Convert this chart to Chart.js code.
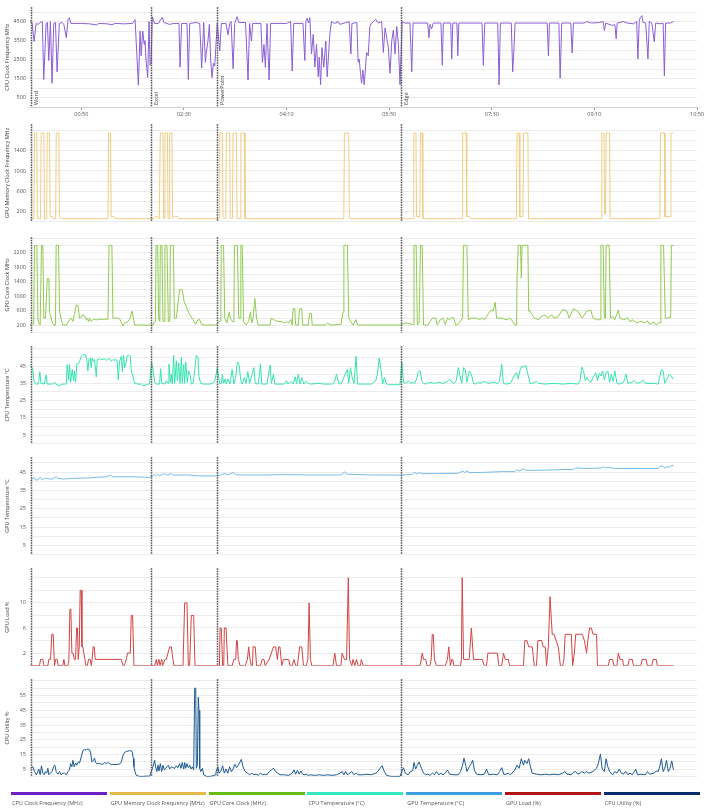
<!DOCTYPE html>
<html>
<head>
<meta charset="utf-8">
<script src="https://cdn.jsdelivr.net/npm/chart.js@4.4.1/dist/chart.umd.min.js"></script>
<style>
  html, body { margin: 0; padding: 0; background: #fff; }
  #wrap { position: relative; width: 708px; height: 808px; font-family: "Open Sans", sans-serif; }
  #wrap canvas { position: absolute; left: 0; }
  .leg { position: absolute; top: 792px; }
  .leg .bar { height: 3px; }
  .leg .txt { font-size: 5.5px; color: #555; margin-top: 4px; margin-left: 1px; white-space: nowrap; }
</style>
</head>
<body>
<div id="wrap"></div>
<script>
// time is in seconds since start, shown as mm:ss
const eventNames = ["Word", "Excel", "PowerPoint", "Edge"];
const eventTimes = [0.5, 118, 182, 361.5];
const xTicks = [50, 150, 250, 350, 450, 550, 650];

const seriesNames = ["CPU Clock Frequency (MHz)", "GPU Memory Clock Frequency (MHz)", "GPU Core Clock (MHz)",
  "CPU Temperature (°C)", "GPU Temperature (°C)", "GPU Load (%)", "CPU Utility (%)"];
const axisTitles = ["CPU Clock Frequency MHz", "GPU Memory Clock Frequency MHz", "GPU Core Clock MHz",
  "CPU Temperature °C", "GPU Temperature °C", "GPU Load %", "CPU Utility %"];

const cpuClock = [
  [0,4500],[2,4450],[4,3450],[6,4400],[8,4350],[10,4450],[12,4500],[13.4,1450],[15.7,4400],[17,4450],[18.3,2450],[19.9,4500],[21.5,1250],[23.1,4400],[24.8,4450],[26.4,1850],[28.6,4400],[31,4450],[33,4350],[35.4,3650],[37.1,4600],[38.3,4700],[40,4400],[50,4400],[58,4380],[65,4320],[67,4400],[75,4380],[80,4330],[83,4400],[92,4380],[100,4400],[102.4,4600],[105.6,1150],[107.3,4000],[108.3,2700],[109.9,4000],[111.2,3300],[112,3500],[113.1,2450],[114.7,1550],[116,4500],[117,2200],[118,2300],
  [119.2,4750],[121.5,4400],[125,4400],[128.9,4720],[130.5,4450],[136.1,4350],[140,4400],[145.2,4400],[146.2,2100],[147.8,4400],[153,4400],[154.3,1450],[155.6,4400],[162,4450],[165.4,4400],[167.3,2050],[169.3,4450],[170.9,2350],[171.9,2900],[173.5,3500],[174.8,4350],[176.1,2450],[177.4,1550],[178.7,2300],[180,2150],
  [182.5,4400],[184.9,2950],[186.5,4400],[191,4400],[193,3800],[194.6,4400],[196,4500],[197.9,2020],[199.5,4400],[201.8,4760],[203.5,4450],[210,4450],[212.5,1420],[214,4400],[215.8,3470],[217,4400],[225,4400],[226.5,2350],[228,3290],[229.4,2080],[231,4400],[233,1420],[234.5,4400],[250,4400],[254,4500],[255.5,1900],[257,4400],[266,4400],
  [267.8,2450],[268.8,4500],[270.1,4670],[271.4,4420],[272.7,4700],[274.3,2790],[276,3820],[277.6,2100],[279.2,3300],[280.9,1590],[281.9,2620],[283.2,1170],[284.5,3130],[286.3,2100],[288.3,3470],[289.6,1590],[292.2,3820],[293.8,4500],[297,4400],[300.3,4500],[302,4350],[311,4500],[312.7,2790],[313.7,4400],[318.5,4450],
  [319.8,2360],[320.8,2530],[322.1,1770],[323.1,1250],[324.4,1940],[325.7,1170],[327,2100],[328,2870],[329.6,2700],[331.2,4240],[332.9,4420],[335.1,4500],[336.8,4620],[339.4,4420],[342.7,4500],[344.3,2870],[346,4160],[349.2,3130],[350.9,1770],[352.5,3470],[354.1,4050],[355.7,2790],[357.4,4240],[359,3300],[360.6,1170],
  [362.7,4500],[365.4,4420],[370.3,4420],[372,1850],[373.3,4420],[387.5,4420],[388.8,3650],[389.8,4350],[391.4,4120],[393,4420],[400.5,4420],[401.8,2190],[402.8,4420],[410,4420],[411,2530],[412,4420],[416,4420],[416.9,2700],[417.9,4420],[430,4420],
  [440.5,4420],[441.8,2190],[443.1,4420],[455.8,4420],[457.1,1170],[458.4,4420],[469,4420],[470.4,1850],[471.4,2790],[472.7,4420],[504,4420],[505.2,2700],[506.2,4420],[515.4,4420],[516.6,1510],[518.2,4420],[527,4420],[528.3,2840],[529.6,4420],[540,4420],[542.6,4500],[547,4420],[555,4450],[558.5,4500],[559.8,4020],[561.1,4420],[567,4300],[570,4330],[571.2,3590],[572.2,4420],[578,4500],[582,4420],[588,4380],[591.2,4500],[592.4,2530],[593.7,4500],[594.6,4700],[596.3,4810],[597.3,4450],[600,4420],[602.2,2530],[603.5,4500],[606,4420],[608.4,3440],[609.7,4420],[614,4380],[617,4420],[618.2,1640],[619.4,4420],[624,4420],[627.2,4500]
];

const gpuMemClock = [
  [0,60],[3.8,60],[4.4,1750],[6.6,1750],[7.2,60],[10.3,60],[10.9,1750],[13.5,1750],[14.1,60],[16.2,60],[16.8,1750],[19,1750],[19.6,100],[22,100],[23,60],[25,60],[25.6,1750],[28.1,1750],[28.7,80],[31,60],[76,60],[76.6,1750],[78.5,1750],[79.1,100],[82,100],[83,60],[118,60],
  [121,60],[122.5,100],[124.5,100],[126,60],[126.4,60],[127,1750],[129.6,1750],[130.2,60],[131,60],[131.5,1750],[133.9,1750],[134.5,60],[135.5,60],[136.1,1750],[138.3,1750],[138.9,80],[141,100],[144,100],[145,60],[181,60],
  [184.3,60],[184.9,1750],[187.5,1750],[188.1,80],[190.8,60],[191.4,1750],[194.6,1750],[195.2,70],[197.3,60],[197.9,1750],[201.2,1750],[201.8,60],[204.9,60],[205.5,1750],[208.9,1750],[209.5,60],[305.8,60],[306.4,1750],[310.6,1750],[311.2,60],[361,60],
  [373.4,60],[374,1750],[376.1,1750],[376.7,100],[379.9,100],[380.5,1750],[382.2,1750],[382.8,60],[421,60],[421.6,1750],[425,1750],[425.6,100],[428,100],[429,60],[474,60],[474.6,1750],[476.7,1750],[477.3,100],[480.4,100],[481,1750],[485.2,1750],[485.8,60],[556.6,60],[557.2,1750],[559.3,1750],[559.9,150],[560.8,150],[561.4,1750],[564.8,1750],[565.4,60],[613.8,60],[614.4,1750],[618.2,1750],[618.8,100],[624,100],[624.6,1750],[627,1750]
];

const gpuCoreClock = [
  [0,210],[1.1,210],[2.8,245],[3.6,245],[4.4,2400],[6.7,2400],[7.7,400],[8.6,270],[9.9,210],[10.6,210],[11.2,2400],[12.5,2400],[13.5,400],[15.1,400],[16.8,1490],[18.4,1490],[19,550],[20,490],[21.3,310],[23.2,210],[24.8,210],[25.5,2400],[27.8,2400],[28.8,590],[30.1,400],[32,210],[35.3,210],[38.5,350],[40.2,400],[41.8,310],[43.4,530],[45,750],[46.7,750],[48.3,400],[49.9,420],[51.5,490],[53.2,460],[54.8,360],[55.8,400],[57.1,300],[58,400],[59.7,310],[61.3,360],[62.9,370],[64.6,350],[67.8,370],[72,370],[76,370],[77,2400],[79.8,2400],[80.8,400],[85.7,400],[87.3,380],[90.6,180],[92.2,270],[95.5,310],[97.7,400],[99.4,590],[100.3,490],[101.9,210],[118,210],
  [119.8,210],[121.5,310],[122.3,310],[122.8,2400],[124.4,2400],[125.4,400],[126.5,310],[127,2400],[128.6,2400],[129.6,310],[131,310],[131.5,2400],[133.5,2400],[134.8,310],[136.3,310],[136.8,2400],[139.7,2400],[140.7,400],[142.6,400],[145.8,1180],[148.4,1180],[150,880],[152.4,700],[155.6,490],[158.9,360],[161.5,230],[163.7,350],[165.4,360],[167,230],[170.3,210],[181,210],
  [182.2,226],[184.3,310],[185.9,310],[186.4,2400],[188.6,2400],[189.8,400],[191.9,270],[194.1,560],[195.3,400],[197.5,300],[198.7,300],[199.2,2400],[202.1,2400],[203.4,400],[204.9,400],[205.5,2400],[206.8,2400],[208.1,300],[210.6,210],[213.1,310],[214.8,560],[216.1,270],[217.4,400],[219.1,940],[220.8,400],[222.5,210],[233.9,210],[235.2,400],[237.3,360],[241.5,310],[245.8,300],[247.9,270],[250,310],[252.1,260],[254.2,360],[255.5,210],[256.4,660],[258,660],[258.9,210],[261.4,210],[262.7,660],[264.8,660],[265.7,210],[271.2,210],[272.5,530],[274.2,530],[275,210],[288.1,210],[290.3,270],[292.4,210],[303,226],[305.1,570],[305.9,2400],[309.3,2400],[310.6,400],[314.8,210],[317.8,360],[319.1,210],[361,210],
  [362.3,226],[366.5,270],[372.9,226],[373.6,226],[374.2,2400],[376.3,2400],[377.5,210],[379.2,270],[379.9,270],[380.5,2400],[382.2,2400],[383.5,210],[387.7,210],[392,400],[395.3,400],[397,210],[399.6,350],[402.5,400],[404.7,226],[406.8,400],[408.9,357],[411,418],[413.1,400],[414.8,210],[417.4,240],[421.6,400],[422.4,2400],[425.8,2400],[427.1,357],[430.1,400],[434.3,400],[438.6,365],[440.7,400],[442.8,357],[447,530],[449.2,620],[451.3,590],[453.4,835],[454.7,400],[459.7,400],[464,357],[468.2,400],[470.3,310],[472.5,210],[474.2,210],[474.6,1440],[475.8,2400],[478,2400],[478.8,1500],[479.6,2400],[485.2,2400],[486,590],[487.3,590],[491.5,400],[495.8,357],[497.9,444],[502.1,487],[504.2,400],[508.5,487],[510.6,400],[514.8,444],[519.1,640],[523.3,590],[525.4,400],[529.7,660],[533.9,590],[538.1,400],[542.4,590],[546.6,618],[548.7,400],[553,357],[555.8,357],[556.4,2400],[558.5,2400],[559.7,400],[560.8,400],[561.4,2400],[564.4,2400],[565.7,400],[567.8,444],[569.9,357],[573.3,620],[575,400],[578.4,357],[582.6,400],[584.7,296],[586.9,357],[591.1,270],[595.3,313],[599.6,270],[601.7,330],[603.8,226],[608.1,296],[610.2,210],[613.1,270],[614.3,270],[614.8,2400],[617.4,2400],[619.1,400],[621,400],[622.9,418],[624.4,418],[625,2400],[627.1,2400]
];

const cpuTemp = [
  [0.5,45.6],[2.8,43.1],[3.8,36.5],[5.4,34.6],[7.7,34.6],[8.6,36.5],[9.6,41.8],[10.6,35],[14.1,34.6],[15.8,39.9],[16.8,34.6],[22.3,34.6],[23.9,35.6],[26.2,34.1],[28.8,33.7],[32,34.6],[35.3,34.6],[36.3,45.9],[37.6,36.9],[38.5,45.9],[39.5,35.6],[41.1,43.1],[42.4,36.5],[43.4,42.2],[44.4,35.6],[45.7,46.3],[47,46.3],[48.3,47.8],[49.9,50.7],[51.5,51.6],[54.1,51.6],[55.4,48.8],[56.4,42.2],[57.4,48.8],[58.7,49.7],[59.7,44.1],[60.6,49.7],[61.9,47.8],[62.9,48.8],[64.6,38.8],[65.5,48.8],[67.8,49.2],[71,48.8],[72.7,49.3],[74.3,48.2],[75.9,49.2],[77.6,49.3],[79.2,47.8],[80.8,48.8],[82.4,48.4],[84.1,48.8],[85,47.8],[86,37.1],[87.3,47.8],[89,50.7],[89.9,41.8],[91.2,51.2],[92.2,44.1],[93.8,47.8],[94.8,51.2],[96.1,51.2],[97.7,50.7],[98.7,42.2],[100.3,39.3],[101.9,35],[105.2,34.6],[108.5,34.6],[110.1,33.7],[113.3,34.1],[115,34.6],[116.6,34.6],
  [118.5,47.5],[119.8,43.1],[121.5,35.6],[123.1,34.6],[126.3,34.6],[127.3,43.5],[128.6,35],[131.2,34.6],[132.8,36.5],[134.5,35],[135.4,46.3],[136.8,35.6],[137.7,40.3],[138.7,34.6],[140,51.2],[141,35],[142.6,48.2],[143.6,36.5],[144.9,46.9],[146.2,35],[147.5,50.1],[148.4,35],[149.8,45.9],[150.7,35],[151.7,47.5],[153.3,35.6],[154.6,42.2],[156.3,39.3],[157.2,34.6],[158.9,35],[160.5,42.5],[162.1,51.2],[163.7,50.1],[164.7,38.8],[166.4,35],[168.7,34.6],[171.9,34.6],[175.2,34.6],[177.8,35],[180,36.1],
  [182.6,44.1],[183.9,38.4],[184.9,34.6],[186.5,35],[187.5,40.3],[188.8,35],[190.1,37.5],[191.4,34.6],[192.8,37.5],[194.9,34.6],[197,43.1],[198.7,34.6],[200.4,38.4],[202.1,47.5],[203.8,45.6],[205.5,36.5],[206.8,34.6],[208.9,38.4],[210.6,35],[212.3,41.8],[214,35],[216.5,40.3],[218.2,44.1],[219.5,35],[222.5,34.6],[224.6,46.3],[225.8,34.6],[230.9,34.6],[233.9,45.6],[235.2,35],[237.3,40.3],[238.6,34.6],[247.9,34.6],[250,36.5],[251.3,34.6],[254.2,36.1],[256.4,34.6],[258.5,38.8],[259.7,34.6],[261.4,40.3],[263.1,34.6],[264.8,38.4],[266.9,34.6],[269.1,36.1],[271.2,35],[273.3,34.6],[281.8,35],[286,34.6],[294.5,34.6],[296.6,35.6],[298.7,40.3],[300.8,35],[303,34.6],[307.2,40.3],[309.3,43.1],[310.6,35],[312.3,44.1],[314,38.4],[315.7,35],[317.8,50.7],[319.1,34.6],[332.6,34.6],[336.9,36.5],[338.6,40.3],[340.3,49.7],[342,43.1],[343.6,34.6],[345.3,38.4],[347.5,34.6],[349.6,34.2],[360.6,34.2],
  [362.3,47.5],[364,35.6],[366.5,35],[368.6,36.5],[370.8,35],[372.9,35.6],[375,35],[377.1,38.4],[378.4,41.8],[380.1,42.5],[381.8,36.5],[383.5,35],[385.6,34.6],[389.8,35.6],[394.1,35],[398.3,35.6],[402.5,35],[406.8,36.1],[408.9,37.5],[411,35.6],[413.1,35],[415.3,36.5],[417.4,44.1],[419.1,39.3],[420.8,35],[422.5,44.1],[424.2,43.1],[425.8,35.6],[428,42.2],[430.1,40.3],[432.2,35],[434.3,34.6],[436.4,35.6],[438.6,35],[442.8,36.1],[447,35],[451.3,35.6],[455.5,35],[457.6,36.5],[459.7,46.3],[461.4,35],[464,34.6],[468.2,35],[472.5,40.3],[474.2,41.2],[475.8,37.5],[477.5,42.5],[479.2,45],[480.9,44.1],[483,45.6],[485.2,40.3],[487.3,35],[489.4,35],[493.6,36.1],[495.8,35],[502.1,34.6],[510.6,35],[519.1,34.6],[527.5,35],[533.9,34.6],[536,36.5],[537.7,44.4],[539.4,42.5],[541.1,36.5],[542.8,38.4],[544.5,36.5],[546.6,35.6],[548.7,38.4],[551.3,41.2],[553,36.5],[554.7,40.7],[556.4,39.3],[558,42.2],[559.7,36.9],[561.4,41.2],[563.1,42.2],[564.8,35.6],[566.5,40.3],[568.2,36.1],[569.9,42.2],[572,35],[574.2,34.6],[578.4,35.6],[580.9,40.3],[582.6,35],[586.9,35.6],[589,36.5],[591.1,35],[595.3,35.6],[597.5,36.9],[599.6,35],[608.1,35],[612.3,34.6],[613.6,38.4],[615.3,43.1],[617,42.2],[618.6,35],[620.8,37.5],[622.9,40.3],[625,39.3],[626.7,37.5]
];

const gpuTemp = [
  [0.5,40.3],[2.1,41.2],[3.8,42.1],[5.4,40.7],[7.7,40.7],[9.9,42.1],[11.9,40.7],[14.1,41.7],[15.8,41.6],[19,41.2],[22.3,41.2],[25.5,42.4],[27.2,41.6],[32,41.2],[45,41.6],[54.8,41.7],[64.6,42.1],[74.3,42.4],[78.6,43.3],[80.8,42.4],[84.1,42.4],[100.3,42.4],[116.6,42.1],
  [119.8,42.9],[121.5,43.8],[123.1,42.9],[124.7,43.8],[126.3,42.9],[129.6,43.8],[131.2,44.1],[132.8,43.3],[137.7,44.1],[139.3,43.3],[152.4,43.4],[165.4,42.9],[181.7,42.9],
  [184.9,43.3],[189.8,44.1],[193,43.4],[197.9,44.7],[201.2,43.4],[214,43.4],[230.9,43.4],[247.9,43.6],[269.1,43.4],[290.3,43.4],[303,43.4],[306.4,45],[309.3,43.8],[332.6,43.4],[360.6,43.3],
  [362.3,43.3],[372.9,43.8],[375,45],[377.1,43.8],[379.2,44.7],[381.4,44.1],[396.2,44.1],[417.4,44.3],[421.6,45.5],[423.7,44.7],[425.8,45.5],[428,44.7],[442.8,44.8],[459.7,45.2],[472.5,45.2],[474.6,46.4],[476.7,45.5],[480.9,46.7],[483,45.9],[502.1,46],[523.3,46.4],[529.7,46.4],[531.8,47.2],[544.5,46.9],[557.2,47.2],[559.3,47.9],[561.4,47.2],[563.6,47.6],[569.9,46.9],[586.9,46.9],[612.3,46.9],[614.4,48.3],[616.5,48.4],[618.6,47.2],[620.8,47.9],[622.9,47.6],[625,48.4],[627.1,48.6]
];

const gpuLoad = [
  [0,0],[9.3,0],[10.3,1],[12.5,1],[13.5,0],[17.4,0],[18.4,1],[20,1],[21.3,5],[22.6,5],[23.9,0],[24.9,1],[26.5,1],[27.5,0],[32,0],[33,1],[34,0],[36.9,0],[37.9,1],[38.9,9],[39.8,9],[40.8,2],[42.1,2],[43.1,1],[44.4,1],[45.4,6],[46.3,6],[47,1],[48,3],[48.9,12],[49.9,12],[50.6,3],[51.5,3],[52.5,2],[53.5,1],[54.5,0],[55.8,0],[57.1,1],[58.7,1],[59.7,0],[60.6,1],[61.6,3],[62.6,3],[63.6,1],[89,1],[90.6,0],[91.9,0],[93.8,1],[95.1,2],[97.7,2],[98.7,8],[100,8],[101.3,0],
  [121.5,0],[123.1,1],[124.1,0],[125.7,1],[126.7,0],[128.3,1],[129.3,0],[131.5,1],[132.8,1],[136.1,3],[137.7,3],[139.3,1],[140.3,0],[149.1,0],[150.7,10],[153,10],[154.3,0],[155.6,0],[157.2,8],[159.5,8],[160.8,0],[181,0],
  [182.2,0],[184.6,0],[185.2,6],[186.4,6],[187.7,0],[188.8,0],[189.4,6],[191.1,6],[192.8,0],[197,0],[198.7,1],[200.5,1],[201.3,4],[202,4],[203,1],[204.7,0],[209.7,0],[211.9,1],[213.1,3],[214.4,1],[215.7,0],[216.8,0],[217.4,3],[219.5,3],[220.8,0],[224.6,0],[226.3,1],[228,1],[229.2,0],[233.1,1],[235.2,2],[237.3,3],[239.4,3],[241.1,1],[242.4,3],[243.6,3],[245.3,0],[247,1],[252.1,1],[253.4,0],[255.5,0],[257.2,1],[258.9,0],[260.5,0],[261.4,1],[262.7,3],[264.8,3],[266.5,0],[269.1,0],[270.8,1],[272,10],[273.3,1],[274.6,0],[295.3,0],[297,2],[298.7,0],[303,0],[304.2,2],[306.4,1],[308.5,1],[310.2,14],[311.4,1],[313.6,0],[314.8,1],[316.5,0],[318.2,1],[319.9,0],[322,0],[322.9,1],[324.6,0],[361,0],
  [380.1,0],[381.3,1],[382.2,2],[383.5,1],[385.6,1],[386.9,0],[389.8,0],[391,1],[392,5],[393,5],[394.1,1],[396.2,0],[404.7,0],[406.8,1],[408.1,3],[409.7,0],[411,1],[411.9,1],[413.1,0],[419.5,0],[420.4,1],[421.2,14],[422.5,1],[428,1],[430.1,6],[432.2,1],[440.7,1],[442.8,0],[444.9,0],[446.2,2],[455.5,2],[456.8,0],[459.7,0],[461.4,2],[463.1,1],[466.1,1],[467.4,0],[480.9,0],[482.2,4],[484.3,4],[486,3],[489.4,3],[491.5,0],[493.6,0],[494.9,4],[498.7,4],[500,3],[502.1,3],[503.4,0],[505.1,3],[506.8,11],[507.6,11],[508.9,5],[510.6,5],[512.7,4],[514.8,3],[516.9,0],[519.1,0],[520.3,1],[521.6,5],[527.5,5],[528.8,0],[530.5,2],[531.8,5],[538.1,5],[540.3,4],[542.4,2],[543.6,4],[545.3,6],[547,6],[548.7,5],[552.1,5],[553,0],[563.6,0],[564.8,1],[567.8,1],[569.1,0],[572,0],[573.3,2],[575,1],[577.5,1],[578.4,0],[582.6,0],[583.9,1],[586.9,1],[588.1,0],[595.3,0],[596.6,1],[600.4,1],[601.7,0],[605.9,0],[607.2,1],[610.2,1],[611.4,0],[627.1,0]
];

const cpuUtility = [
  [0.5,5.7],[1.8,6.3],[2.8,6.7],[4.4,3.5],[6.1,1.3],[7,2.4],[8.6,5.2],[9.9,1.3],[11.2,7.4],[12.5,2.4],[13.8,1.3],[15.1,3.5],[16.4,2.4],[17.4,5.7],[18.4,1.3],[19.7,2.4],[21.6,3.5],[22.9,6.7],[24.2,7.8],[25.5,3.5],[27.2,1.7],[28.8,3.5],[30.4,1.3],[32,2.4],[33.7,2.4],[35.3,1.3],[36.9,3.5],[38.5,4.6],[39.5,8.9],[40.8,6.7],[41.8,11.1],[43.1,6.7],[44.4,9.3],[45.7,7.8],[47,10],[48.3,9.3],[49.9,13.3],[51.5,17.6],[53.2,18.3],[54.8,18.3],[56.4,18.7],[58,18.3],[59,16.5],[60.3,10],[62,11.1],[62.9,12.6],[63.9,9.6],[65.2,8.9],[67.8,8.9],[71,8.3],[72.7,9.6],[74.3,8.9],[75.9,9.6],[77.6,8.9],[79.2,8.3],[80.8,8.3],[84.1,8.3],[87.3,8.5],[89,10],[90.6,14.3],[92.2,16.5],[93.8,17],[95.5,17.4],[97.1,17.6],[98.7,17.6],[99.7,16.5],[100.7,12.2],[101.3,6.7],[102.3,3.5],[103.6,0.9],[106.8,0.2],[110.1,0.2],[113.3,0.4],[116.6,0.4],
  [118.2,3.5],[119.8,6.7],[121.5,11.1],[122.4,6.7],[123.7,3.5],[124.7,7.8],[125.7,3.9],[127,8.9],[128.3,3.5],[129.6,7.8],[130.9,4.6],[132.2,5.7],[133.5,6.7],[134.8,7.8],[136.1,5.2],[137.7,6.7],[139.3,6.1],[141,5.7],[142.6,7.4],[144.2,6.1],[145.8,8.9],[147.1,5.7],[148.4,9.6],[149.8,5.2],[150.7,9.6],[151.7,5.7],[153,8.9],[154.3,6.1],[155.6,7.8],[156.9,5.2],[158.2,6.7],[159.5,4.6],[160.5,60],[161.5,60],[162.1,5.7],[163.1,7.8],[164,53.9],[164.7,44.8],[165.4,5.7],[166.4,3.5],[168,5.7],[169.3,1.3],[171.9,0.2],[175.2,0.2],[178.4,0.6],[181,1.3],
  [181.4,3.5],[183.1,6.7],[184.3,2.4],[186.4,4.6],[187.7,7.4],[189.4,2.4],[191.1,5.2],[192.8,2.4],[194.5,6.7],[196.2,3.5],[197.9,5.2],[199.6,8.3],[201.3,6.1],[203,7.8],[204.7,10],[205.9,11.7],[207.6,6.7],[209.7,3.5],[211.9,2.4],[214,1.3],[216.1,2.4],[218.2,1.3],[220.3,1.7],[222.5,0.9],[224.6,2.4],[226.7,1.3],[228.8,1.7],[230.9,1.3],[233.1,3.5],[235.2,4.6],[237.3,5.7],[239.4,3.5],[241.5,2.4],[243.6,1.3],[247.9,1.3],[252.1,0.9],[255.5,2.4],[257.2,4.6],[258.9,1.7],[260.6,4.3],[262.3,1.7],[264,3.9],[265.7,1.7],[267.4,1.3],[269.1,1.7],[271.2,0.9],[273.3,1.3],[277.5,0.9],[281.8,1.3],[286,0.9],[290.3,1.3],[294.5,0.9],[298.7,1.3],[302.1,2.4],[304.2,3.5],[305.9,1.3],[307.6,3.5],[309.3,1.3],[311.4,2.4],[313.6,3.5],[315.7,1.3],[317.8,2.4],[319.9,1.3],[324.2,1.3],[328.4,1.7],[332.6,1.3],[336.9,2.4],[339,3.5],[341.1,5.7],[343.2,7.4],[345.3,3.5],[347.5,0.9],[351.7,0.2],[355.9,0.2],[360.6,0.2],
  [362.3,3.5],[364,6.1],[365.7,2.4],[368.6,1.3],[370.8,3.5],[372.9,3.9],[374.2,9.6],[375.8,5.2],[377.5,7.8],[379.2,10],[381.4,5.7],[383.5,2.4],[385.6,1.3],[387.7,1.7],[389.8,0.9],[392,2.4],[394.1,1.3],[396.2,3.5],[398.3,1.3],[400.4,2.4],[402.5,1.3],[404.7,2.4],[406.8,4.6],[408.9,1.7],[413.1,1.3],[417.4,1.3],[419.5,3.5],[421.6,7.8],[422.9,12.6],[424.6,7.8],[425.8,3.5],[428,6.7],[430.1,8.9],[431.4,11.1],[433.1,4.3],[435.2,1.7],[438.6,1.3],[442.8,1.7],[444.9,5.2],[447,1.3],[451.3,1.7],[455.5,1.3],[457.6,3.5],[459.7,6.1],[461.9,1.3],[466.1,2.4],[468.2,1.3],[472.5,4.6],[474.6,7.8],[476.7,5.7],[478.8,12.2],[480.9,7.8],[482.2,11.1],[484.3,8.9],[486,12.2],[487.7,6.7],[489.4,2.4],[493.6,1.7],[497.9,1.3],[502.1,1.7],[506.4,1.3],[510.6,1.7],[514.8,1.3],[519.1,2.4],[521.2,3.5],[523.3,1.7],[527.5,1.3],[529.7,3.1],[531.8,3.5],[533.9,1.7],[536,2.4],[538.1,3.5],[540.3,2.4],[542.4,3.5],[544.5,2.4],[548.7,3.5],[552.1,5.7],[553.8,8.9],[555.9,15.4],[557.6,5.2],[559.7,3.5],[561.4,12.2],[563.1,6.7],[564.8,3.5],[567.8,1.3],[569.9,3.5],[572,2.4],[574.2,5.2],[576.3,2.4],[578.4,1.7],[580.5,3.5],[582.6,1.3],[584.7,2.4],[586.9,1.3],[589,3.5],[590.3,5.2],[592,1.3],[595.3,1.7],[599.6,1.3],[601.7,3.5],[603.8,1.7],[608.1,2.4],[610.2,3.9],[612.3,3.5],[614,7.8],[615.3,12.2],[617,3.5],[618.6,5.7],[620.3,11.1],[622,3.5],[623.7,5.7],[625.4,10.7],[627.1,4.6]
];

// labelled y ticks (grid lines sit at every step)
const cpuClockTicks = [500, 1500, 2500, 3500, 4500];
const gpuMemTicks = [200, 600, 1000, 1400];
const gpuCoreTicks = [200, 600, 1000, 1400, 1800, 2200];
const cpuTempTicks = [5, 15, 25, 35, 45];
const gpuTempTicks = [5, 15, 25, 35, 45];
const gpuLoadTicks = [2, 6, 10];
const cpuUtilTicks = [5, 15, 25, 35, 45, 55];

const series = [cpuClock, gpuMemClock, gpuCoreClock, cpuTemp, gpuTemp, gpuLoad, cpuUtility];
const tickLabels = [cpuClockTicks, gpuMemTicks, gpuCoreTicks, cpuTempTicks, gpuTempTicks, gpuLoadTicks, cpuUtilTicks];
const yMax = [5250, 1920, 2620, 56.5, 53, 15.5, 66];
const yStep = [500, 200, 200, 5, 5, 2, 5];

const lineColors = ["#8b5fd3", "#f0cd85", "#8fcb4f", "#36e4b0", "#78bbea", "#d04545", "#1d5a93"];
const legendColors = ["#6a22c6", "#e6b94c", "#66bb14", "#35e8bd", "#3b9fe0", "#b01515", "#0b2c6b"];

// layout: top / bottom of each plot area in page pixels
const plotTop = [5, 122, 235, 344, 455, 566, 677];
const plotBottom = [107, 224, 335, 446, 557, 668, 779];
const PAD = 5;
const FONT = "'Open Sans', sans-serif";
const FS = 5.5;

const mmss = s => String(Math.floor(s / 60)).padStart(2, "0") + ":" + String(s % 60).padStart(2, "0");

const eventLines = {
  id: "eventLines",
  afterDatasetsDraw(chart, args, opts) {
    const { ctx, chartArea: a, scales: { x } } = chart;
    ctx.save();
    eventTimes.forEach((t, k) => {
      const px = Math.round(x.getPixelForValue(t)) + 0.5;
      ctx.strokeStyle = "#4d4d4d";
      ctx.lineWidth = 1.5;
      ctx.setLineDash([1.5, 1]);
      ctx.beginPath();
      ctx.moveTo(px, a.top);
      ctx.lineTo(px, a.bottom);
      ctx.stroke();
      if (opts.labels) {
        ctx.save();
        ctx.translate(px + 4.5, a.bottom - 2);
        ctx.rotate(-Math.PI / 2);
        ctx.fillStyle = "#444";
        ctx.font = FS + "px " + FONT;
        ctx.textAlign = "left";
        ctx.textBaseline = "middle";
        ctx.fillText(eventNames[k], 0, 0);
        ctx.restore();
      }
    });
    ctx.restore();
  }
};

const wrap = document.getElementById("wrap");

series.forEach((data, i) => {
  const first = i === 0;
  const top = plotTop[i] - PAD;
  const h = plotBottom[i] - plotTop[i] + PAD + (first ? 15 : PAD);
  const cv = document.createElement("canvas");
  cv.width = 708;
  cv.height = h;
  cv.style.top = top + "px";
  cv.style.width = "708px";
  cv.style.height = h + "px";
  wrap.appendChild(cv);

  new Chart(cv, {
    type: "line",
    data: {
      datasets: [{
        label: seriesNames[i],
        data: data.map(d => ({ x: d[0], y: d[1] })),
        borderColor: lineColors[i],
        borderWidth: 1,
        pointRadius: 0,
        tension: 0,
        fill: false
      }]
    },
    options: {
      responsive: false,
      animation: false,
      parsing: false,
      layout: { padding: { top: PAD, bottom: first ? 0 : PAD, left: 0, right: 11 } },
      plugins: {
        legend: { display: false },
        tooltip: { enabled: false },
        eventLines: { labels: first }
      },
      scales: {
        x: {
          type: "linear",
          min: 0,
          max: 650,
          display: first,
          afterBuildTicks: s => { s.ticks = xTicks.map(v => ({ value: v })); },
          afterFit: s => { s.height = first ? 15 : 0; },
          ticks: {
            callback: v => mmss(v),
            color: "#555",
            font: { size: FS, family: FONT },
            padding: 1,
            maxRotation: 0,
            autoSkip: false
          },
          grid: { drawOnChartArea: false, drawTicks: true, tickLength: 3, color: "#999" },
          border: { display: true, color: "#cfcfcf" }
        },
        y: {
          min: 0,
          max: yMax[i],
          afterFit: s => { s.width = 30; },
          afterBuildTicks: s => {
            const t = [];
            for (let k = 0; k * yStep[i] <= yMax[i]; k++) t.push({ value: k * yStep[i] });
            s.ticks = t;
          },
          ticks: {
            callback: v => tickLabels[i].includes(v) ? v : "",
            color: "#555",
            font: { size: FS, family: FONT },
            padding: 4,
            autoSkip: false
          },
          grid: { color: "#ececec", drawTicks: false },
          border: { display: false },
          title: {
            display: true,
            text: axisTitles[i],
            color: "#444",
            font: { size: FS, family: FONT },
            padding: { top: 4.5, bottom: 0 }
          }
        }
      }
    },
    plugins: [eventLines]
  });
});

// legend strip under the panels
seriesNames.forEach((name, i) => {
  const item = document.createElement("div");
  item.className = "leg";
  item.style.left = (11 + i * 98.8) + "px";
  item.style.width = "96px";
  item.innerHTML = '<div class="bar" style="background:' + legendColors[i] + '"></div><div class="txt">' + name + "</div>";
  wrap.appendChild(item);
});
</script>
</body>
</html>
